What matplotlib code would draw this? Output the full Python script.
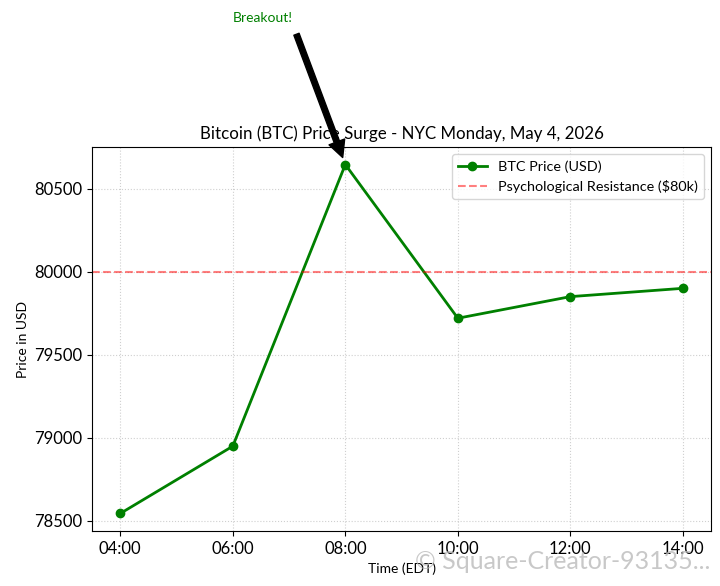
import matplotlib
matplotlib.use('Agg')
import matplotlib.pyplot as plt

plt.rcParams['font.family'] = ['Lato', 'DejaVu Sans']

# price readings through the morning
times = ['04:00', '06:00', '08:00', '10:00', '12:00', '14:00']
prices = [78545, 78950, 80645, 79720, 79850, 79900]
resistance = 80000
breakout_time = '08:00'
breakout_price = 80645
label_time = '06:00'
label_price = 81500

fig, ax = plt.subplots(figsize=(7.2, 5.86), dpi=100)
fig.subplots_adjust(left=0.128, right=0.9875, bottom=0.094, top=0.749)

ax.plot(times, prices, marker='o', color='green', linewidth=2, label='BTC Price (USD)')
ax.axhline(resistance, color='red', linestyle='--', alpha=0.5, label='Psychological Resistance ($80k)')

ax.annotate('Breakout!', xy=(breakout_time, breakout_price), xytext=(label_time, label_price),
            arrowprops=dict(facecolor='black', shrink=0.05), color='green', fontsize=10)

ax.set_title('Bitcoin (BTC) Price Surge - NYC Monday, May 4, 2026', fontsize=12.2)
ax.set_xlabel('Time (EDT)', fontsize=10)
ax.set_ylabel('Price in USD', fontsize=10)
ax.tick_params(labelsize=12)
ax.grid(True, linestyle=':', alpha=0.6)
ax.legend(fontsize=10.4, loc='upper right')

# watermark from the source image
fig.text(0.577, 0.041, '© Square-Creator-93135...', fontsize=18, color='#bbbbbb', alpha=0.8, va='center')

fig.savefig('out.png', dpi=100)
